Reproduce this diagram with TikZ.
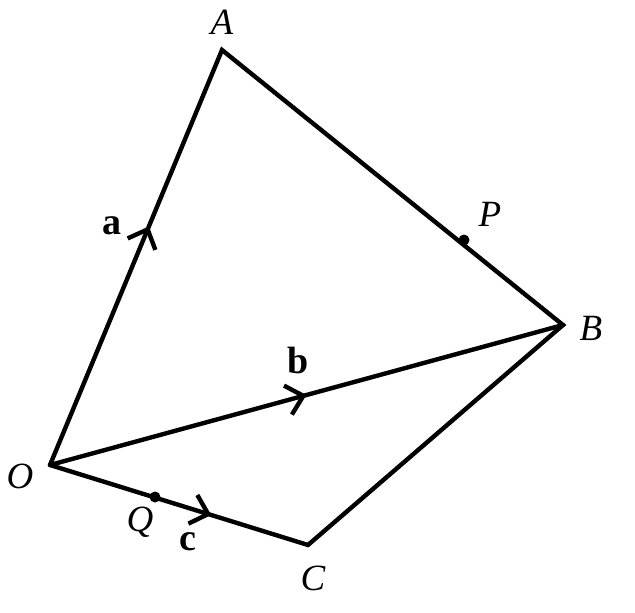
\documentclass[tikz,border=0pt]{standalone}
\usepackage{fontspec}
\setmainfont{Liberation Serif}
\usetikzlibrary{arrows.meta,decorations.markings}
\begin{document}
\begin{tikzpicture}[x=1pt,y=-1pt,
  edge/.style={line width=4.4pt,line cap=round,line join=miter},
  midarrow/.style={postaction={decorate,decoration={markings,mark=at position #1 with {\arrow{Straight Barb[length=16pt,width=30pt,line width=4.4pt]}}}}},
  lbl/.style={font=\fontsize{37}{42}\selectfont\itshape},
  vlbl/.style={font=\fontsize{38}{44}\selectfont\bfseries},
  dot/.style={circle,fill=black,inner sep=0pt,minimum size=11pt}]
\useasboundingbox (0,0) rectangle (635,613);
\coordinate (O) at (50,465);
\coordinate (A) at (222,50);
\coordinate (B) at (563,325);
\coordinate (C) at (308,545);
\draw[edge] (O) -- (A) -- (B) -- (C) -- (O);
\draw[edge] (O) -- (B);
\path[midarrow=0.575] (O) -- (A);
\path[midarrow=0.5] (O) -- (B);
\path[midarrow=0.625] (O) -- (C);
\node[dot] (P) at (464,240) {};
\node[dot] (Q) at (155,497) {};
\node[lbl] (lA) at (222,22) {A};
\node[lbl] (lB) at (591,328) {B};
\node[lbl] (lC) at (313,578) {C};
\node[lbl] (lO) at (20,476) {O};
\node[lbl] (lP) at (490,214) {P};
\node[lbl] (lQ) at (140,522) {Q};
\node[vlbl] (la) at (112,226) {a};
\node[vlbl] (lb) at (298,360) {b};
\node[vlbl] (lc) at (188,542) {c};
\end{tikzpicture}
\end{document}
